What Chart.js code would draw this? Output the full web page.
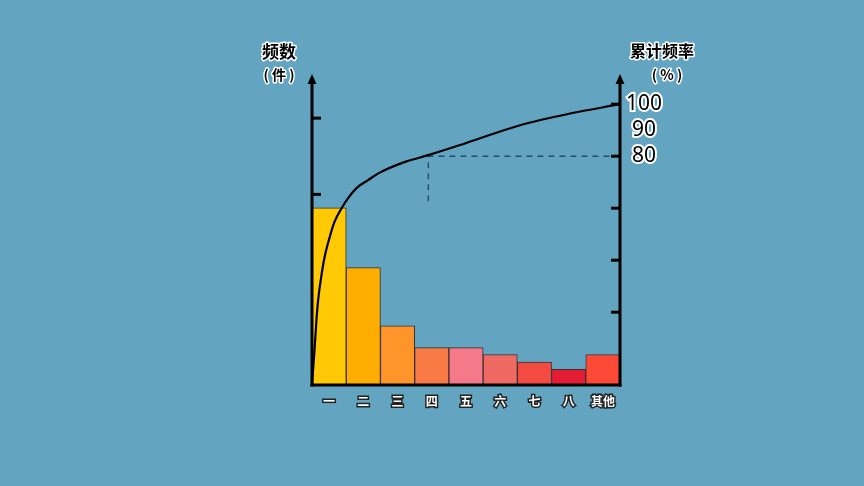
<!DOCTYPE html>
<html>
<head>
<meta charset="utf-8">
<script src="https://cdn.jsdelivr.net/npm/chart.js@4/dist/chart.umd.min.js"></script>
<style>
  html, body { margin: 0; padding: 0; background: #63a5c0; }
  #wrap { width: 864px; height: 486px; }
</style>
</head>
<body>
<div id="wrap"><canvas id="c" width="864" height="486"></canvas></div>
<script>
// ---- data ----
const categories = ['一', '二', '三', '四', '五', '六', '七', '八', '其他'];
const frequencies = [46.5, 30.8, 15.5, 9.8, 9.8, 8.0, 6.0, 4.1, 8.0];
const barColors = ['#ffca05', '#ffad00', '#fd952b', '#f87b45', '#f57a89', '#ee6a62', '#f34a42', '#e41d34', '#fd4a36'];
const cumulativeX = [0, 0.08, 0.13, 0.18, 0.27, 0.37, 0.52, 0.66, 0.86, 1.05, 1.34, 1.64, 1.94, 2.72, 3.40, 4.47, 6.08, 7.54, 9.0];
const cumulativePct = [-8, 6.7, 17.0, 24.7, 33.6, 41.3, 49.0, 54.8, 59.9, 63.8, 68.2, 70.8, 73.4, 77.8, 80.4, 84.9, 91.9, 96.4, 100];
const guideX = [3.4, 3.4, 9];
const guideY = [62.7, 80, 80];
const pctLabels = [80, 90, 100];
const pctTickMarks = [20, 40, 60, 80, 100];
const freqTickMarks = [10, 30, 50, 70];
const leftTitle = '频数';
const leftUnit = '( 件 )';
const rightTitle = '累计频率';
const rightUnit = '( % )';

const CJK = '"Noto Sans CJK SC", "Noto Sans", sans-serif';

function outlinedText(ctx, text, x, y, font, fill, stroke, sw) {
  ctx.save();
  ctx.font = font;
  ctx.textAlign = 'center';
  ctx.textBaseline = 'middle';
  ctx.lineJoin = 'round';
  ctx.lineWidth = sw;
  ctx.strokeStyle = stroke;
  ctx.strokeText(text, x, y);
  ctx.fillStyle = fill;
  ctx.fillText(text, x, y);
  ctx.restore();
}

const decor = {
  id: 'decor',
  beforeDatasetsDraw(chart) {
    const ctx = chart.ctx, a = chart.chartArea;
    const y = chart.scales.y;
    ctx.save();
    ctx.strokeStyle = '#000';
    ctx.lineWidth = 3;
    freqTickMarks.forEach(v => {
      const py = y.getPixelForValue(v);
      ctx.beginPath(); ctx.moveTo(a.left, py); ctx.lineTo(a.left + 9, py); ctx.stroke();
    });
    ctx.restore();
  },
  afterDatasetsDraw(chart) {
    const ctx = chart.ctx, a = chart.chartArea;
    const y1 = chart.scales.y1;
    ctx.save();
    ctx.strokeStyle = '#000';
    ctx.fillStyle = '#000';
    ctx.lineWidth = 3;
    ctx.lineCap = 'butt';
    pctTickMarks.forEach(v => {
      const py = y1.getPixelForValue(v);
      ctx.beginPath(); ctx.moveTo(a.right - 9, py); ctx.lineTo(a.right, py); ctx.stroke();
    });
    [a.left, a.right].forEach(x => {
      ctx.beginPath(); ctx.moveTo(x, a.bottom + 1.5); ctx.lineTo(x, a.top + 2); ctx.stroke();
      ctx.beginPath();
      ctx.moveTo(x, a.top - 6);
      ctx.lineTo(x - 4.5, a.top + 4);
      ctx.lineTo(x + 4.5, a.top + 4);
      ctx.closePath(); ctx.fill();
    });
    ctx.beginPath(); ctx.moveTo(a.left - 1.5, a.bottom); ctx.lineTo(a.right + 1.5, a.bottom); ctx.stroke();
    ctx.restore();
    outlinedText(ctx, leftTitle, a.left - 33, 52, 'bold 17px ' + CJK, '#000', '#fff', 3);
    outlinedText(ctx, leftUnit, a.left - 33, 75, 'bold 14px ' + CJK, '#000', '#fff', 3);
    outlinedText(ctx, rightTitle, a.right + 42, 51, 'bold 16px ' + CJK, '#000', '#fff', 3);
    outlinedText(ctx, rightUnit, a.right + 47, 75, 'bold 14px ' + CJK, '#000', '#fff', 3);
  }
};

new Chart(document.getElementById('c'), {
  type: 'bar',
  data: {
    labels: categories,
    datasets: [
      {
        type: 'line',
        data: cumulativeX.map((x, i) => ({ x: x, y: cumulativePct[i] })),
        xAxisID: 'xl', yAxisID: 'y1',
        borderColor: '#000', borderWidth: 2.2,
        pointRadius: 0, cubicInterpolationMode: 'monotone',
        fill: false, order: 0
      },
      {
        type: 'line',
        data: guideX.map((x, i) => ({ x: x, y: guideY[i] })),
        xAxisID: 'xl', yAxisID: 'y1',
        borderColor: '#1e4e6c', borderWidth: 1.4, borderDash: [6, 5],
        pointRadius: 0, tension: 0, fill: false, order: 1
      },
      {
        type: 'bar',
        data: frequencies,
        xAxisID: 'x', yAxisID: 'y',
        backgroundColor: barColors,
        borderColor: '#3a3030', borderWidth: 1,
        barPercentage: 1, categoryPercentage: 1,
        grouped: false,
        order: 2
      }
    ]
  },
  options: {
    responsive: false,
    animation: false,
    devicePixelRatio: 1,
    layout: { padding: { top: 80, left: 0, right: 0, bottom: 0 } },
    plugins: { legend: { display: false }, tooltip: { enabled: false }, title: { display: false } },
    scales: {
      x: {
        type: 'category', position: 'bottom', offset: true,
        grid: { display: false, drawTicks: false }, border: { display: false },
        ticks: {
          padding: 9, color: '#fff',
          font: { family: CJK, size: 12, weight: 'bold' },
          textStrokeColor: '#222', textStrokeWidth: 3
        },
        afterFit(s) { s.height = 101; }
      },
      xl: {
        type: 'linear', display: false, min: 0, max: 9, position: 'bottom',
        offset: false, grid: { offset: false }, bounds: 'ticks', grace: 0
      },
      y: {
        type: 'linear', position: 'left', min: 0, max: 80,
        grid: { display: false, drawTicks: false }, border: { display: false },
        ticks: { display: false },
        afterFit(s) { s.width = 312; }
      },
      y1: {
        type: 'linear', position: 'right', min: -8, max: 109.3,
        grid: { display: false, drawTicks: false }, border: { display: false },
        afterBuildTicks(s) { s.ticks = pctLabels.map(v => ({ value: v })); },
        ticks: {
          padding: 6, crossAlign: 'center', color: '#000',
          font: { family: '"Noto Sans", sans-serif', size: 21 },
          textStrokeColor: '#fff', textStrokeWidth: 4,
          callback: v => String(v)
        },
        afterFit(s) { s.width = 244; }
      }
    }
  },
  plugins: [decor]
});
</script>
</body>
</html>
